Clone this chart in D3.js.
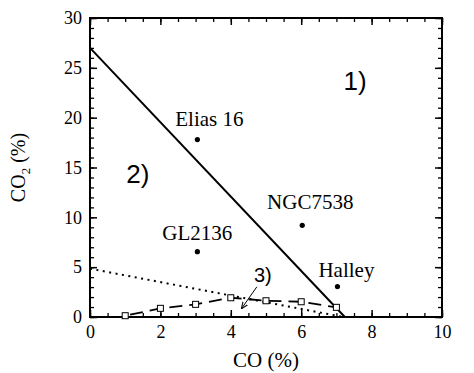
<!DOCTYPE html>
<html>
<head>
<meta charset="utf-8">
<script src="https://d3js.org/d3.v7.min.js"></script>
</head>
<body style="margin:0;background:#fff">
<script>
// data
const sources = ["Elias 16", "GL2136", "NGC7538", "Halley"]
const sourceCO = [3.05, 3.05, 6.03, 7.03]
const sourceCO2 = [17.8, 6.55, 9.2, 3.05]

const solidCO = [0, 7.24]
const solidCO2 = [27.0, 0]

const dottedCO = [0, 7.2]
const dottedCO2 = [4.85, 0]

const dashCO = [1, 2, 3, 4, 5, 6, 7]
const dashCO2 = [0.13, 0.87, 1.27, 1.93, 1.63, 1.53, 0.97]

const xTicks = [0, 2, 4, 6, 8, 10]
const yTicks = [0, 5, 10, 15, 20, 25, 30]

// label placement (pixels relative to the dot)
const labelDx = [12, 0, 8, 9]
const labelDy = [-14, -12, -16, -10]

const SERIF = "'Liberation Serif', 'Times New Roman', Times, serif"
const SANS = "'Liberation Sans', Arial, Helvetica, sans-serif"

const width = 474, height = 373
const margin = {top: 18, right: 32, bottom: 56, left: 90}
const w = width - margin.left - margin.right
const h = height - margin.top - margin.bottom

const svg = d3.select("body").append("svg")
  .attr("width", width).attr("height", height)
  .style("display", "block")

svg.append("defs").append("marker")
  .attr("id", "arrow").attr("viewBox", "0 0 10 10")
  .attr("refX", 9).attr("refY", 5)
  .attr("markerWidth", 7).attr("markerHeight", 7)
  .attr("orient", "auto")
  .append("path").attr("d", "M0,1 L10,5 L0,9").attr("fill", "none").attr("stroke", "#000").attr("stroke-width", 1.5)

const g = svg.append("g").attr("transform", `translate(${margin.left},${margin.top})`)

const x = d3.scaleLinear().domain([0, 10]).range([0, w])
const y = d3.scaleLinear().domain([0, 30]).range([h, 0])

// inward ticks on all four sides
const xMinor = d3.range(0, 10.01, 0.5)
const yMinor = d3.range(0, 30.01, 1)

const axes = [
  {axis: d3.axisBottom(x), t: `translate(0,${h})`, minor: xMinor, major: xTicks, labels: true},
  {axis: d3.axisTop(x), t: "translate(0,0)", minor: xMinor, major: xTicks, labels: false},
  {axis: d3.axisLeft(y), t: "translate(0,0)", minor: yMinor, major: yTicks, labels: true},
  {axis: d3.axisRight(y), t: `translate(${w},0)`, minor: yMinor, major: yTicks, labels: false}
]
axes.forEach(a => {
  // minor
  g.append("g").attr("transform", a.t)
    .call(a.axis.tickValues(a.minor).tickSize(-4).tickFormat(""))
    .call(s => s.select(".domain").remove())
    .selectAll("line").attr("stroke", "#000").attr("stroke-width", 1.3)
  // major
  const ax = g.append("g").attr("transform", a.t)
    .call(a.axis.tickValues(a.major).tickSize(-7).tickPadding(8)
      .tickFormat(a.labels ? d3.format("d") : ""))
  ax.attr("font-family", SERIF).attr("font-size", 18)
  ax.select(".domain").remove()
  ax.selectAll("line").attr("stroke", "#000").attr("stroke-width", 1.5)
  ax.selectAll("text").attr("fill", "#000")
})

// frame
g.append("rect").attr("width", w).attr("height", h)
  .attr("fill", "none").attr("stroke", "#000").attr("stroke-width", 2)

const line = d3.line().x(d => x(d[0])).y(d => y(d[1]))

// solid line
g.append("path").datum(d3.zip(solidCO, solidCO2)).attr("d", line)
  .attr("fill", "none").attr("stroke", "#000").attr("stroke-width", 2)

// dotted line
g.append("path").datum(d3.zip(dottedCO, dottedCO2)).attr("d", line)
  .attr("fill", "none").attr("stroke", "#000").attr("stroke-width", 2)
  .attr("stroke-dasharray", "2,4.5")

// dashed line with squares
g.append("path").datum(d3.zip(dashCO, dashCO2)).attr("d", line)
  .attr("fill", "none").attr("stroke", "#000").attr("stroke-width", 1.8)
  .attr("stroke-dasharray", "13,7").attr("stroke-dashoffset", -5)
g.selectAll(".sq").data(d3.zip(dashCO, dashCO2)).join("rect")
  .attr("x", d => x(d[0]) - 3).attr("y", d => y(d[1]) - 3)
  .attr("width", 6).attr("height", 6)
  .attr("fill", "#fff").attr("stroke", "#000").attr("stroke-width", 1)

// sources
const pts = d3.zip(sources, sourceCO, sourceCO2, labelDx, labelDy)
g.selectAll(".pt").data(pts).join("circle")
  .attr("cx", d => x(d[1])).attr("cy", d => y(d[2])).attr("r", 2.6).attr("fill", "#000")
g.selectAll(".src").data(pts).join("text")
  .attr("font-family", SERIF).attr("font-size", 21).attr("text-anchor", "middle")
  .attr("x", d => x(d[1]) + d[3])
  .attr("y", d => y(d[2]) + d[4])
  .text(d => d[0])

// region labels
const region = (txt, cx, cy, size) => g.append("text")
  .attr("font-family", SANS).attr("font-size", size).attr("text-anchor", "middle")
  .attr("x", x(cx)).attr("y", y(cy)).text(txt)
region("1)", 7.53, 22.8, 26)
region("2)", 1.36, 13.4, 26)
region("3)", 4.91, 3.5, 20)

// arrow for 3)
g.append("line")
  .attr("x1", x(4.74)).attr("y1", y(3.03))
  .attr("x2", x(4.31)).attr("y2", y(0.87))
  .attr("stroke", "#000").attr("stroke-width", 1)
  .attr("marker-end", "url(#arrow)")

// axis titles
svg.append("text").attr("font-family", SERIF).attr("font-size", 21)
  .attr("x", margin.left + w / 2).attr("y", 367).attr("text-anchor", "middle")
  .text("CO (%)")
const yt = svg.append("text").attr("font-family", SERIF).attr("font-size", 20)
  .attr("transform", `translate(25,${margin.top + h / 2}) rotate(-90)`)
  .attr("text-anchor", "middle")
yt.append("tspan").text("CO")
yt.append("tspan").attr("dy", 5).attr("font-size", 13).text("2")
yt.append("tspan").attr("dy", -5).text(" (%)")
</script>
</body>
</html>
